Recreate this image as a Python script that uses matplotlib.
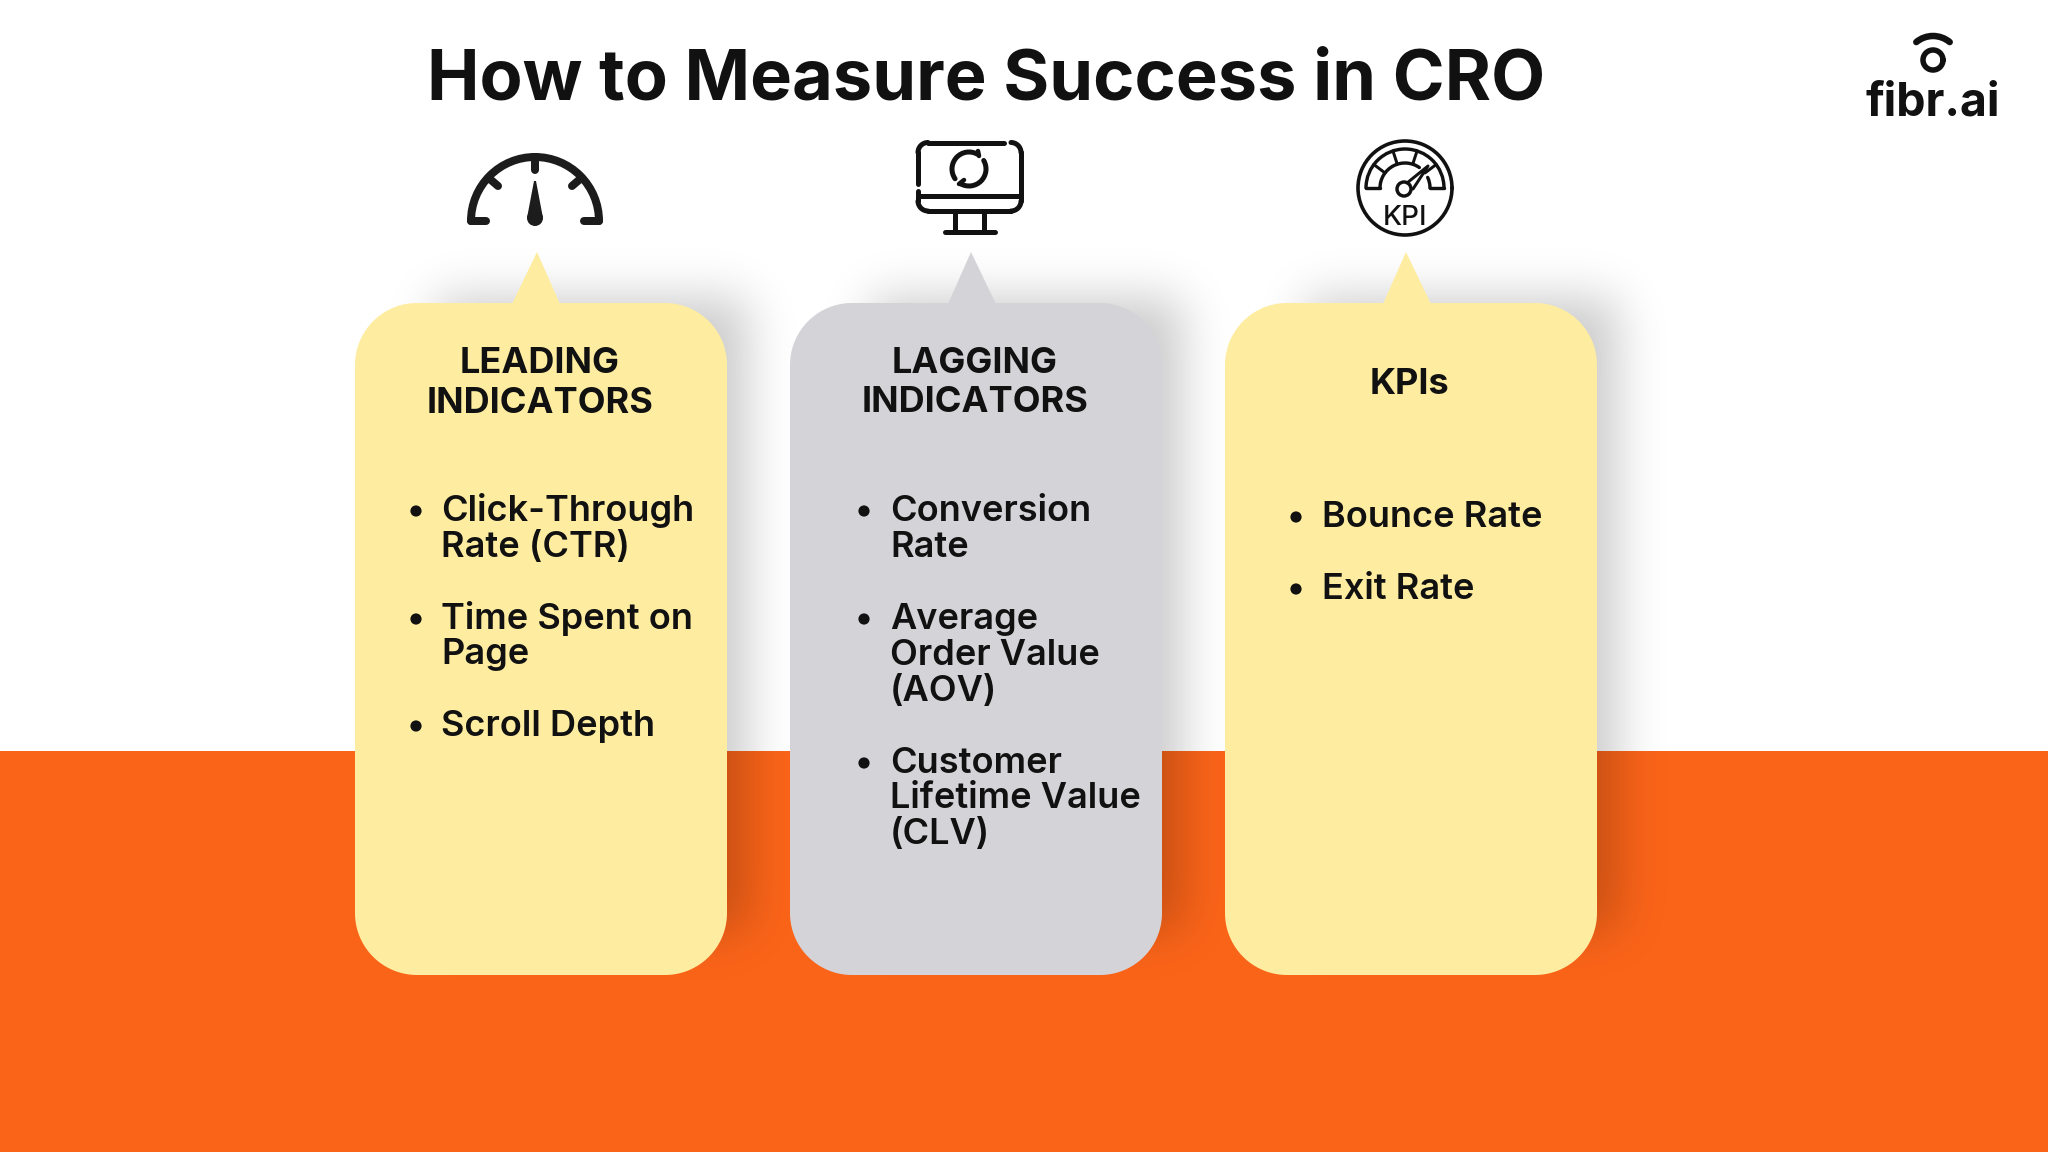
import numpy as np
import matplotlib
matplotlib.use("Agg")
import matplotlib.pyplot as plt
from matplotlib.patches import Polygon, Circle, Arc

plt.rcParams['font.family'] = ['Inter', 'DejaVu Sans']

title = "How to Measure Success in CRO"
logo = "fibr.ai"

heads = [["LEADING", "INDICATORS"], ["LAGGING", "INDICATORS"], ["KPIs"]]
items = [
    [["Click-Through", "Rate (CTR)"], ["Time Spent on", "Page"], ["Scroll Depth"]],
    [["Conversion", "Rate"], ["Average", "Order Value", "(AOV)"], ["Customer", "Lifetime Value", "(CLV)"]],
    [["Bounce Rate"], ["Exit Rate"]],
]

W, H = 2048, 1152
ORANGE = "#FA6419"
YELLOW = "#FEEDA0"
GREY = "#D4D4D8"
INK = "#111111"
ICON = "#1c1c1c"

card_x = [355, 790, 1225]
card_w = 372
card_top, card_bot = 303, 975
card_r = 62
card_cols = [YELLOW, GREY, YELLOW]
tip_x = [537, 971, 1406]
base_x = [(512, 560), (948, 996), (1383, 1431)]
head_cx = [540, 975, 1410]
head_y = [[373, 413], [373, 412], [394]]
bullet_x = [416, 864, 1296]
text_x = [441, 890, 1322]
line_y = [
    [[521, 557], [629, 664], [736]],
    [[521, 557], [629, 665, 701], [773, 808, 844]],
    [[527], [599]],
]


def px(p):
    return p * 0.72


def blur(a, sigma):
    ny, nx = a.shape
    fy = np.fft.fftfreq(ny)[:, None]
    fx = np.fft.rfftfreq(nx)[None, :]
    g = np.exp(-2 * (np.pi * sigma) ** 2 * (fx ** 2 + fy ** 2))
    return np.fft.irfft2(np.fft.rfft2(a) * g, s=a.shape)


def round_rect(x0, y0, x1, y1, r):
    t = np.linspace(0, np.pi / 2, 40)
    pts = []
    for cx, cy, off in [(x1 - r, y0 + r, -np.pi / 2), (x1 - r, y1 - r, 0),
                        (x0 + r, y1 - r, np.pi / 2), (x0 + r, y0 + r, np.pi)]:
        pts += list(zip(cx + r * np.cos(t + off), cy + r * np.sin(t + off)))
    return pts


fig = plt.figure(figsize=(20.48, 11.52), dpi=100, facecolor="white")
ax = fig.add_axes([0, 0, 1, 1])

ax.fill_between([0, W], 751, H, color=ORANGE, lw=0, zorder=1)

# soft shadow thrown to the right of every card
yy, xx = np.mgrid[0:H, 0:W]
mask = np.zeros((H, W))
for x0 in card_x:
    inside = (xx > x0 + 80) & (xx < x0 + card_w + 20) & (yy > card_top - 6) & (yy < card_bot - 45)
    mask[inside] = 1
shadow = blur(mask, 24)
rgba = np.zeros((H, W, 4))
rgba[..., 3] = 0.21 * shadow
ax.imshow(rgba, extent=(0, W, H, 0), aspect="auto", zorder=2, interpolation="bilinear")
ax.set_xlim(0, W)
ax.set_ylim(H, 0)
ax.axis("off")

for i, x0 in enumerate(card_x):
    c = card_cols[i]
    ax.add_patch(Polygon(round_rect(x0, card_top, x0 + card_w, card_bot, card_r), fc=c, ec="none", zorder=3))
    ax.add_patch(Polygon([(base_x[i][0], card_top + 1), (tip_x[i], 252), (base_x[i][1], card_top + 1)],
                         fc=c, ec="none", zorder=3))
    for s, y in zip(heads[i], head_y[i]):
        ax.text(head_cx[i], y, s, ha="center", va="baseline", fontsize=26, fontweight=700,
                color=INK, zorder=5)
    for group, ys in zip(items[i], line_y[i]):
        ax.add_patch(Circle((bullet_x[i], ys[0] - 10), 5.6, fc=INK, ec="none", zorder=5))
        for s, y in zip(group, ys):
            ax.text(text_x[i], y, s, ha="left", va="baseline", fontsize=26, fontweight=600,
                    color=INK, zorder=5)

ax.text(986, 100, title, ha="center", va="baseline", fontsize=50.7, fontweight=700, color=INK, zorder=5)


def stroke(xs, ys, w, col=ICON):
    ax.plot(xs, ys, color=col, lw=px(w), solid_capstyle="round", solid_joinstyle="round", zorder=6)


def arc(cx, cy, r, t1, t2, w, col=ICON):
    ax.add_patch(Arc((cx, cy), 2 * r, 2 * r, theta1=t1, theta2=t2, ec=col, lw=px(w),
                     capstyle="round", zorder=6))


# gauge icon
arc(535, 221, 64, 180, 360, 8)
stroke([471, 486], [221, 221], 8)
stroke([584, 599], [221, 221], 8)
stroke([535, 535], [157, 170], 8)
stroke([491, 498], [180, 186], 8)
stroke([579, 572], [180, 186], 8)
ax.add_patch(Polygon([(534, 181), (536, 181), (543, 218), (527, 218)], fc=ICON, ec="none", zorder=6))
ax.add_patch(Circle((535, 218), 8, fc=ICON, ec="none", zorder=6))

# monitor icon
K = "#111111"
stroke([1004, 928], [142.5, 142.5], 5, K)
arc(928, 152.5, 10, 180, 270, 5, K)
stroke([918, 918], [152, 184], 5, K)
stroke([918, 918], [191, 201], 5, K)
arc(928, 201, 10, 90, 180, 5, K)
stroke([928, 1011], [211, 211], 5, K)
arc(1011, 201, 10, 0, 90, 5, K)
stroke([1021, 1021], [152, 201], 5, K)
arc(1011, 152.5, 10, 270, 360, 5, K)
stroke([918, 1021], [196, 196], 5, K)
stroke([955, 955], [211, 232], 5, K)
stroke([984, 984], [211, 232], 5, K)
stroke([945, 995], [232, 232], 5, K)
arc(969, 169, 17, 145, 300, 5, K)
arc(969, 169, 17, 330, 480, 5, K)
stroke([978, 979], [151, 156], 4.5, K)
stroke([959, 964], [184, 180], 4.5, K)

# KPI icon
arc(1405, 188, 47, 0, 360, 3.6, K)
arc(1405, 188, 39, 180, 360, 3.4, K)
arc(1405, 188, 25, 180, 305, 3.4, K)
arc(1405, 188, 25, 335, 360, 3.4, K)
stroke([1366, 1380], [188, 188], 3.4, K)
stroke([1430, 1444], [188, 188], 3.4, K)
for t in [37, 72, 108, 143]:
    a = np.deg2rad(t)
    stroke([1405 + 25 * np.cos(a), 1405 + 39 * np.cos(a)], [188 - 25 * np.sin(a), 188 - 39 * np.sin(a)], 3, K)
ax.add_patch(Circle((1404, 189), 7, fc="white", ec=K, lw=px(3.4), zorder=6))
stroke([1407, 1428, 1413], [183, 166, 189], 3, K)
ax.text(1405, 225, "KPI", ha="center", va="baseline", fontsize=20, fontweight=500, color=K, zorder=6)

# logo
arc(1933, 60, 10, 0, 360, 5.5, K)
arc(1933, 62, 26, 230, 310, 6.5, K)
ax.text(1933, 116, logo, ha="center", va="baseline", fontsize=33.5, fontweight=700, color=K, zorder=6)

fig.savefig("out.png", dpi=100, facecolor="white")
